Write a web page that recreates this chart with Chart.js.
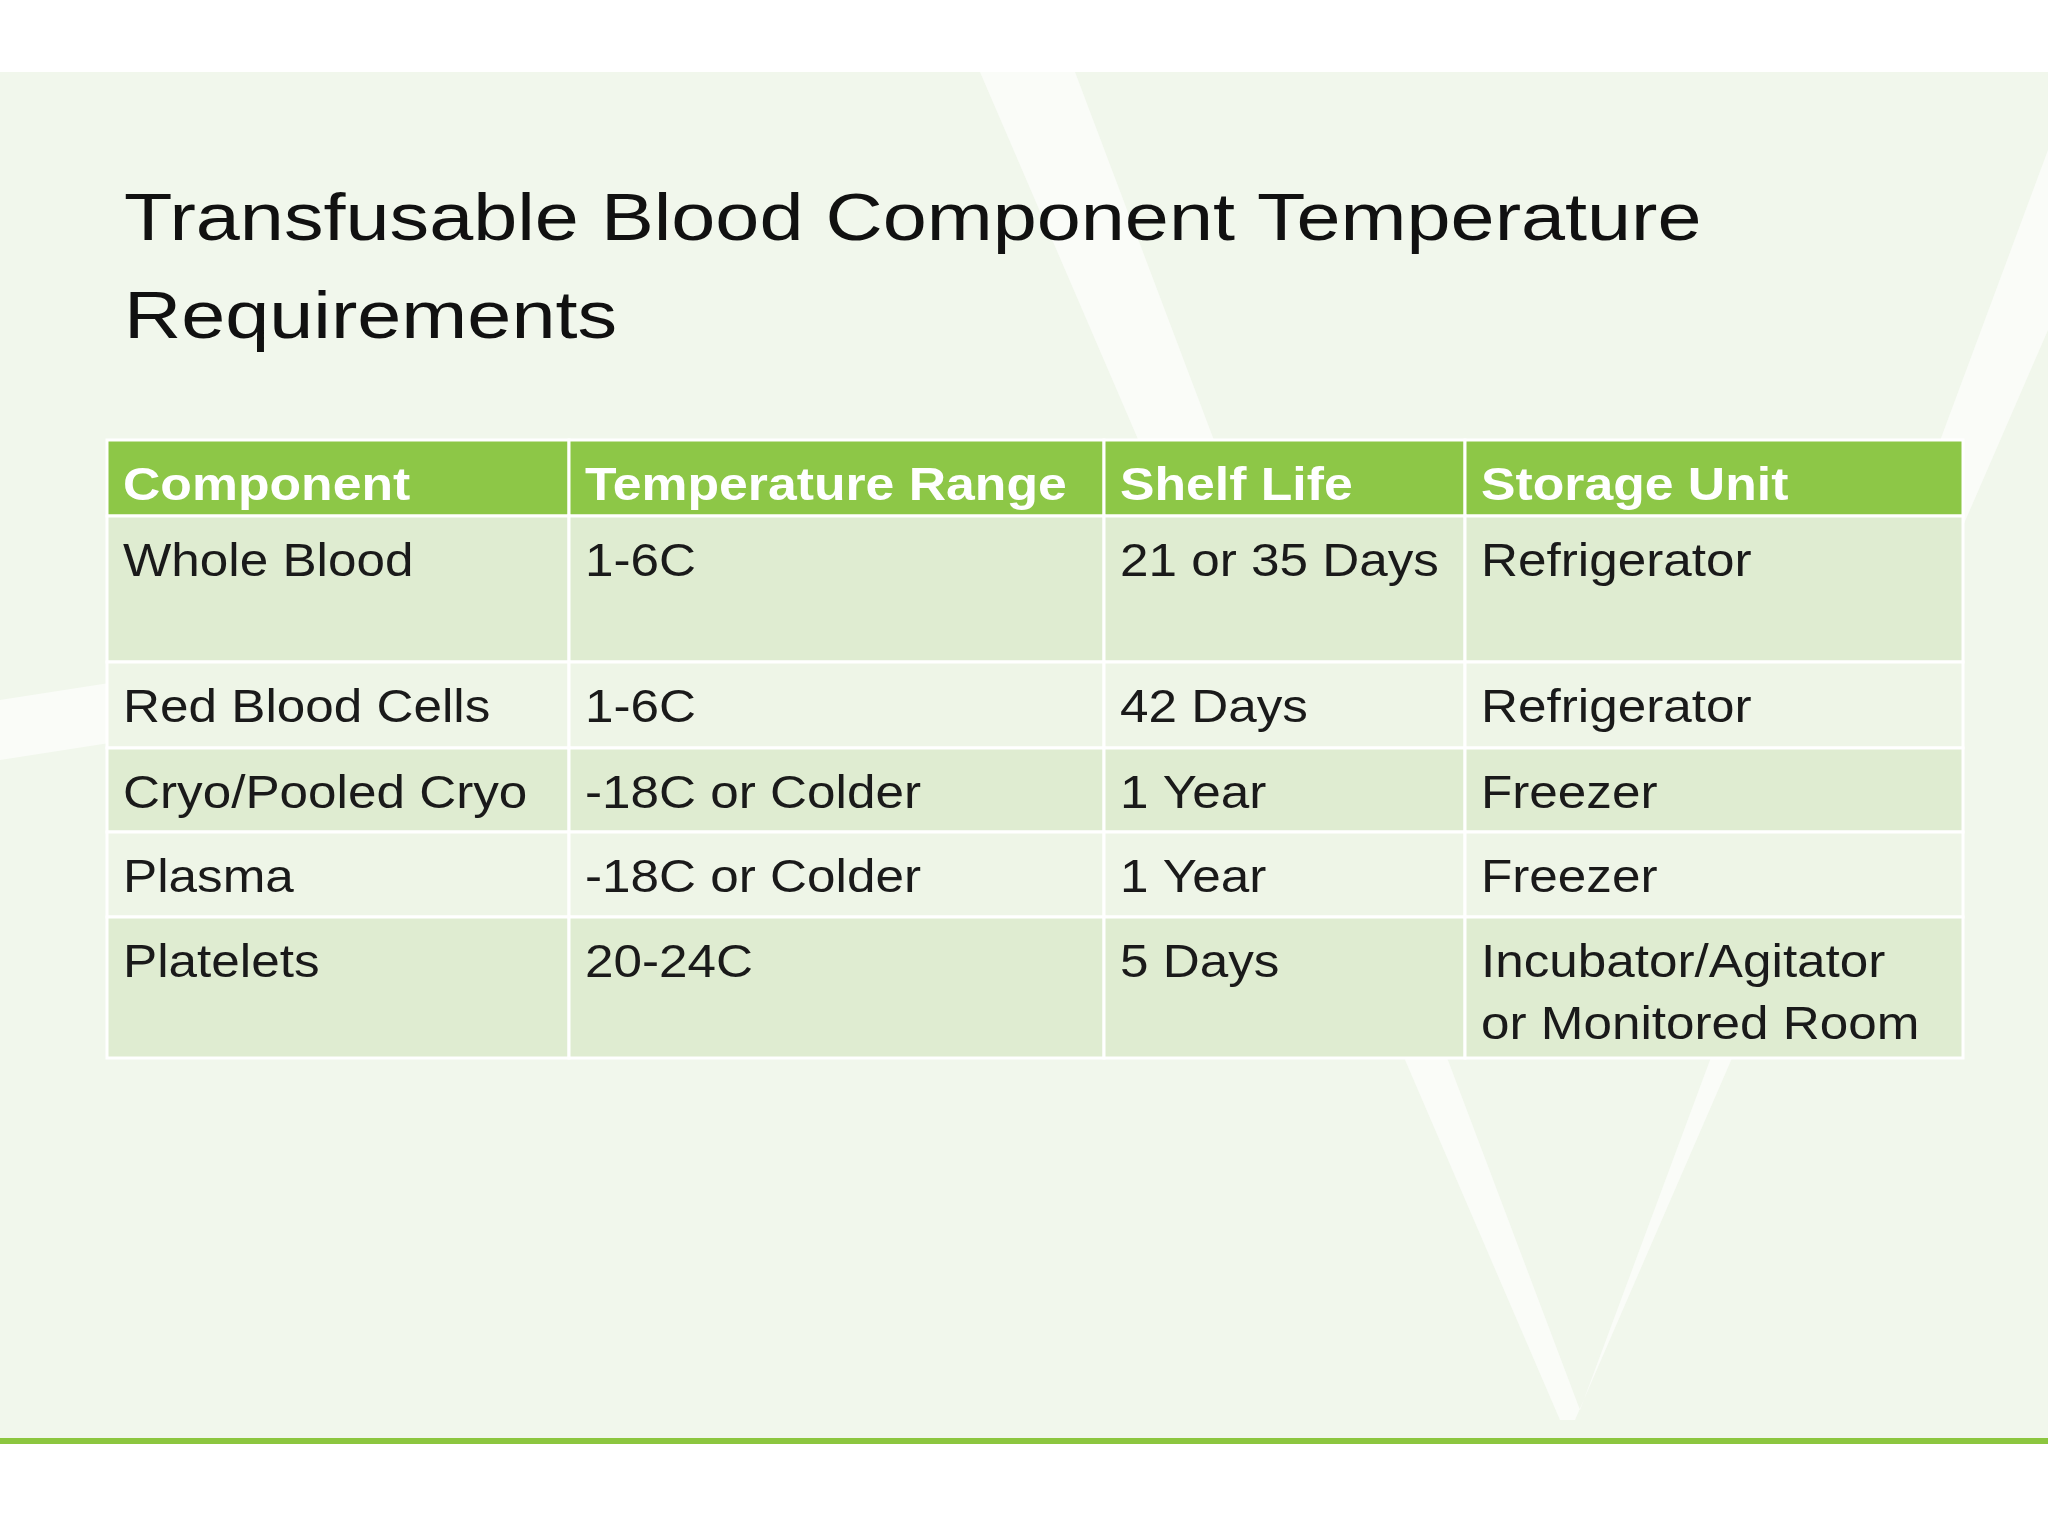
<!DOCTYPE html>
<html><head><meta charset="utf-8">
<script src="https://cdn.jsdelivr.net/npm/chart.js@4"></script>
<style>html,body{margin:0;padding:0;background:#fff}canvas{display:block}</style>
</head><body>
<div style="width:2048px;height:1536px"><canvas id="c"></canvas></div>
<script>
const titleLines = ["Transfusable Blood Component Temperature", "Requirements"];
const headers = ["Component", "Temperature Range", "Shelf Life", "Storage Unit"];
const components = ["Whole Blood", "Red Blood Cells", "Cryo/Pooled Cryo", "Plasma", "Platelets"];
const temperatureRanges = ["1-6C", "1-6C", "-18C or Colder", "-18C or Colder", "20-24C"];
const shelfLives = ["21 or 35 Days", "42 Days", "1 Year", "1 Year", "5 Days"];
const storageUnits = ["Refrigerator", "Refrigerator", "Freezer", "Freezer", "Incubator/Agitator\nor Monitored Room"];
const colEdges = [0, 462, 997, 1358, 1856];
const rowEdges = [0, 76, 222, 308, 392, 477, 618];

function wideText(ctx, txt, x, y, sx) {
  ctx.save(); ctx.translate(x, y); ctx.scale(sx, 1); ctx.fillText(txt, 0, 0); ctx.restore();
}

const tablePlugin = {
  id: 'table',
  beforeDraw(chart) {
    const ctx = chart.ctx, W = chart.width, H = chart.height;
    ctx.save();
    ctx.fillStyle = '#ffffff'; ctx.fillRect(0,0,W,H);
    ctx.fillStyle = '#f1f7ec'; ctx.fillRect(0,72,W,1366);
    ctx.fillStyle = '#fafcf8';
    ctx.beginPath();
    ctx.moveTo(1075,72); ctx.lineTo(1580,1410); ctx.lineTo(2048,150); ctx.lineTo(2048,330);
    ctx.lineTo(1575,1420); ctx.lineTo(1560,1420); ctx.lineTo(980,72); ctx.closePath(); ctx.fill();
    ctx.beginPath();
    ctx.moveTo(0,700); ctx.lineTo(900,560); ctx.lineTo(900,620); ctx.lineTo(0,760); ctx.closePath(); ctx.fill();
    ctx.fillStyle = '#8cc63f'; ctx.fillRect(0,1438,W,6);
    ctx.fillStyle = '#111';
    ctx.font = '66px "Liberation Sans", Arial, sans-serif';
    ctx.textBaseline = 'alphabetic';
    wideText(ctx, titleLines[0], 124, 240, 1.2);
    wideText(ctx, titleLines[1], 124, 338, 1.2);
    ctx.restore();
  },
  afterDatasetsDraw(chart) {
    const ctx = chart.ctx, xs = chart.scales.x, ys = chart.scales.y;
    const rows = [headers].concat(components.map((c,i)=>[c, temperatureRanges[i], shelfLives[i], storageUnits[i]]));
    ctx.save();
    rows.forEach((row, r) => {
      const y0 = ys.getPixelForValue(rowEdges[r]), y1 = ys.getPixelForValue(rowEdges[r+1]);
      row.forEach((txt, c) => {
        const x0 = xs.getPixelForValue(colEdges[c]), x1 = xs.getPixelForValue(colEdges[c+1]);
        ctx.fillStyle = r === 0 ? '#8dc747' : (r % 2 === 1 ? '#dfecd1' : '#eef5e7');
        ctx.fillRect(x0, y0, x1 - x0, y1 - y0);
        ctx.strokeStyle = '#ffffff'; ctx.lineWidth = 3;
        ctx.strokeRect(x0, y0, x1 - x0, y1 - y0);
        ctx.fillStyle = r === 0 ? '#ffffff' : '#1a1a1a';
        ctx.font = (r === 0 ? 'bold ' : '') + '47px "Liberation Sans", Arial, sans-serif';
        ctx.textBaseline = 'top';
        txt.split('\n').forEach((ln, k) => wideText(ctx, ln, x0 + 16, y0 + 24 + k * 62, r === 0 ? 1.1 : 1.09));
      });
    });
    ctx.restore();
  }
};

new Chart(document.getElementById('c'), {
  type: 'scatter',
  data: { datasets: [{ data: [], showLine: false }] },
  options: {
    responsive: true, maintainAspectRatio: false, animation: false,
    layout: { padding: { left: 107, right: 85, top: 440, bottom: 478 } },
    plugins: { legend: { display: false }, tooltip: { enabled: false } },
    scales: {
      x: { type: 'linear', min: colEdges[0], max: colEdges[colEdges.length-1], display: false },
      y: { type: 'linear', min: rowEdges[0], max: rowEdges[rowEdges.length-1], reverse: true, display: false }
    }
  },
  plugins: [tablePlugin]
});
</script>
</body></html>
